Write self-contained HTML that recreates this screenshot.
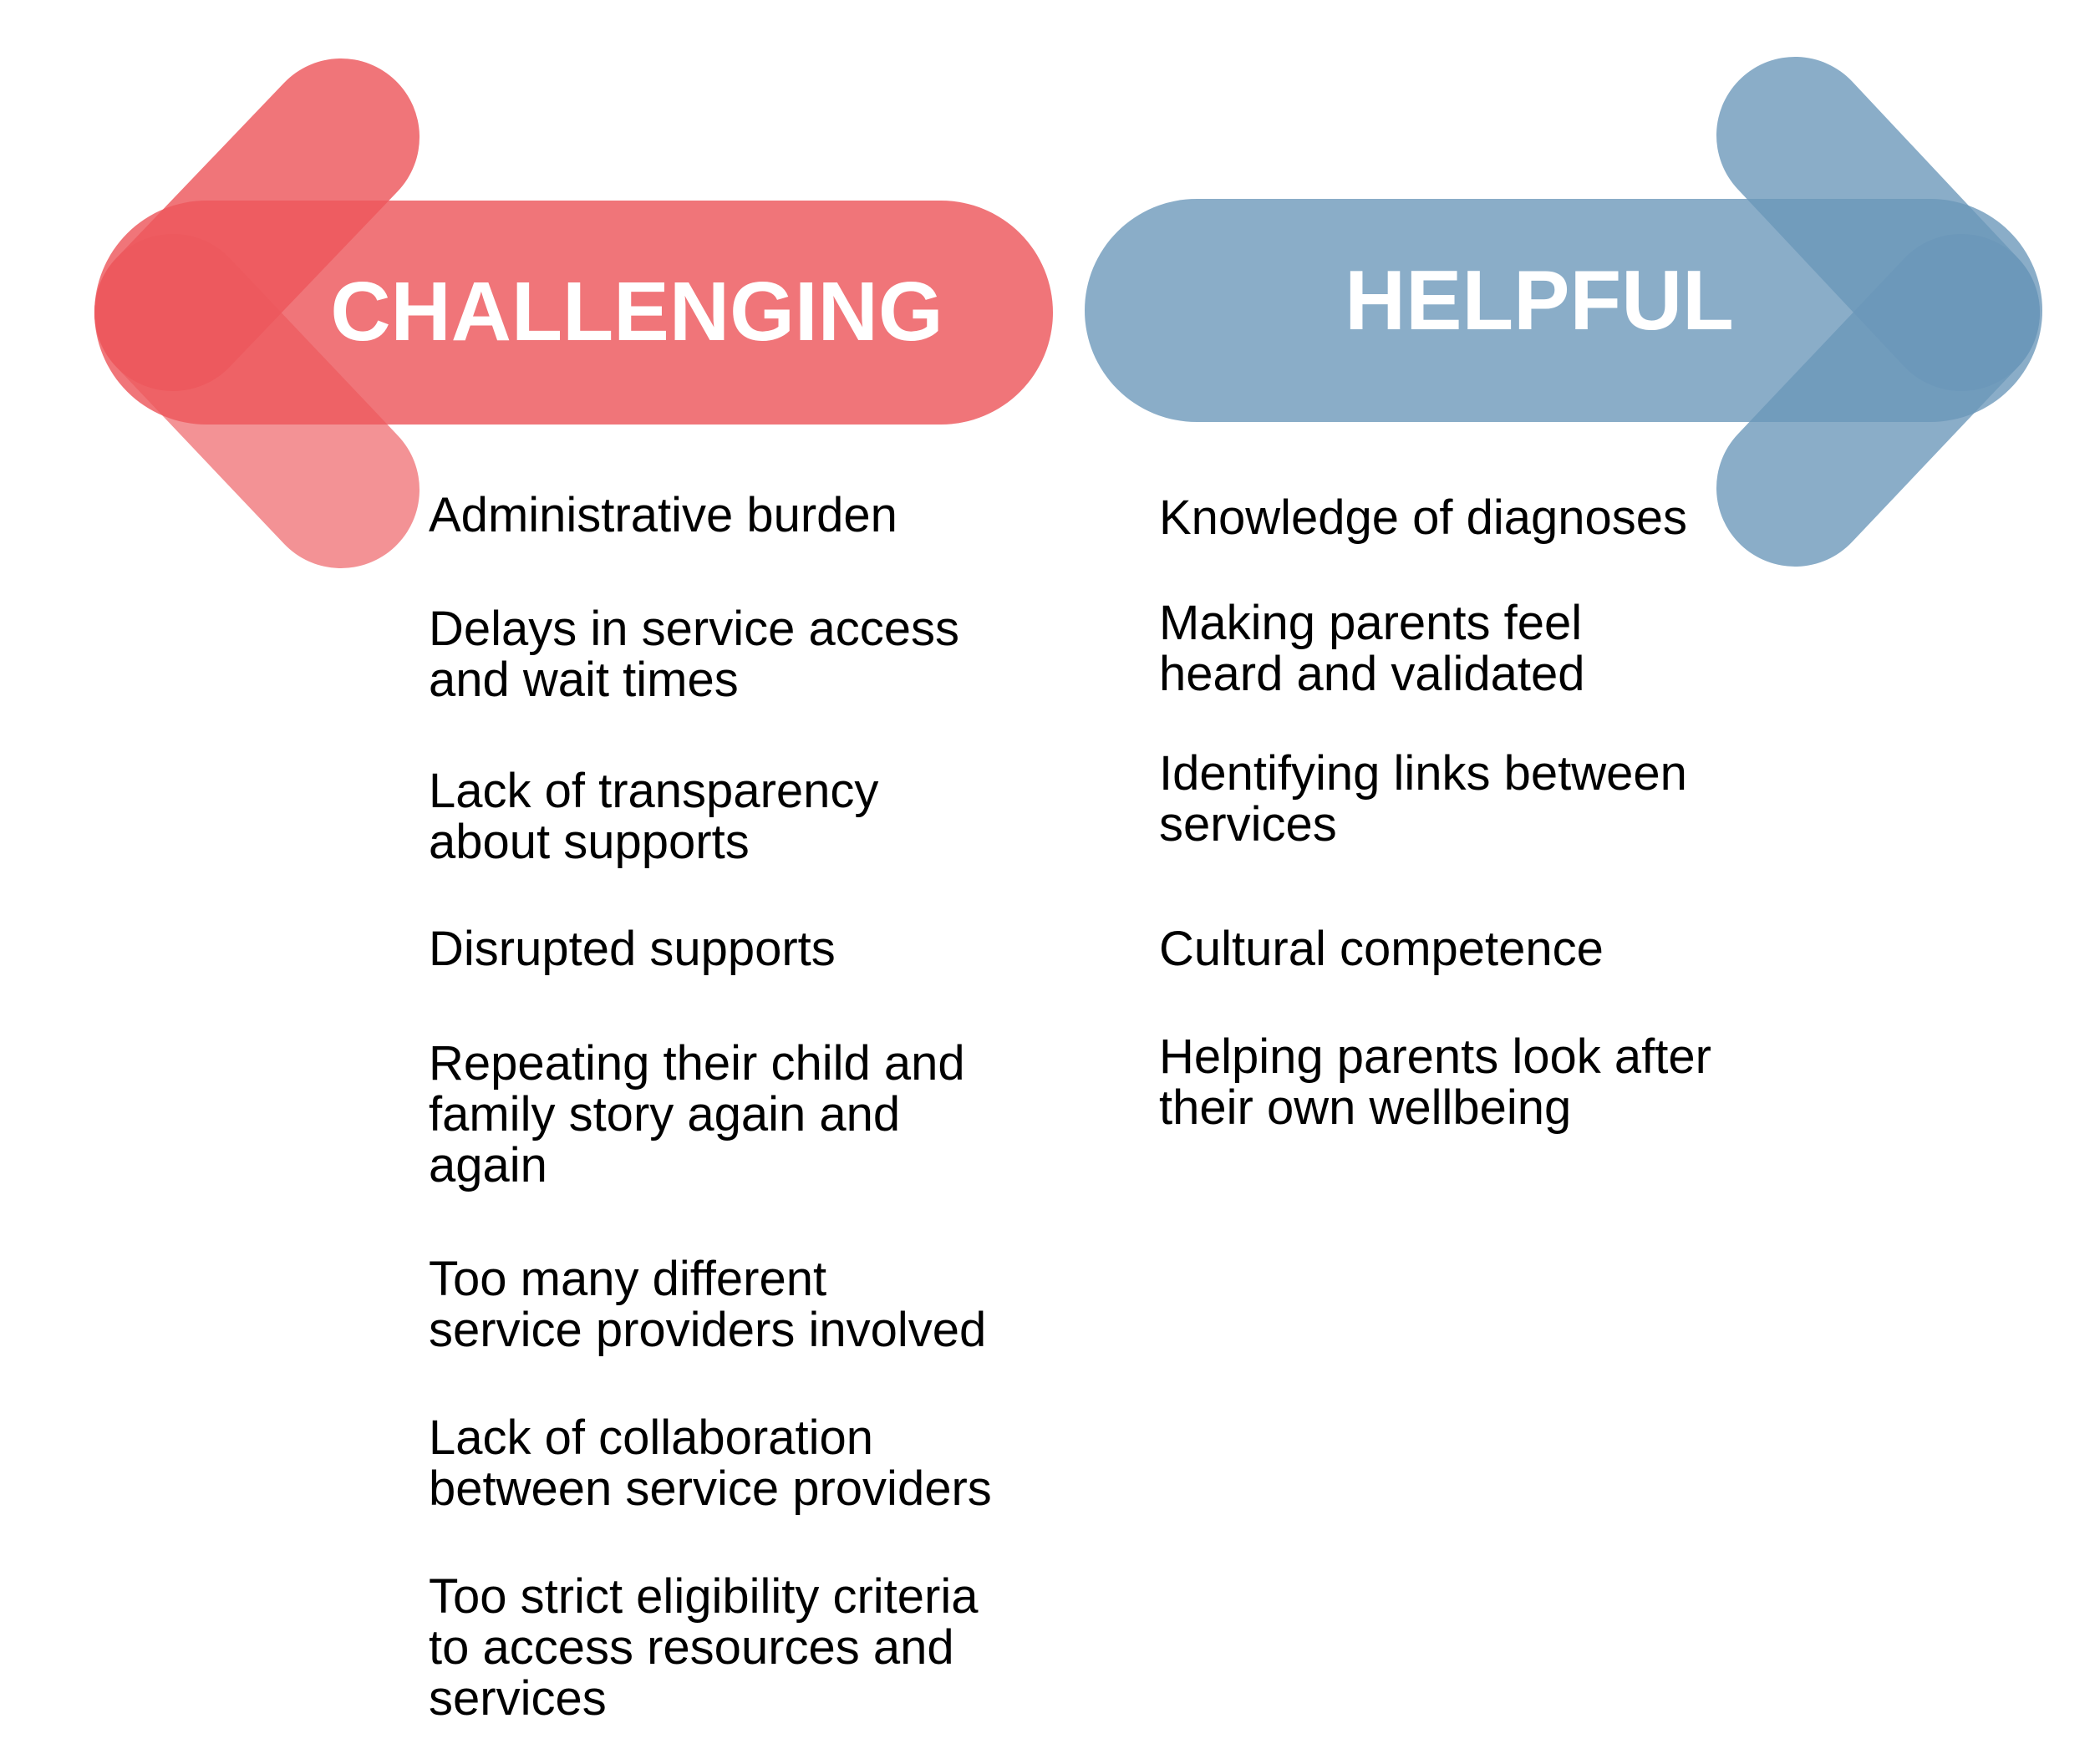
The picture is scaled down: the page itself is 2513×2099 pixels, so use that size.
<!DOCTYPE html>
<html><head><meta charset="utf-8"><style>
html,body{margin:0;padding:0;background:#fff;}
body{width:2513px;height:2099px;position:relative;overflow:hidden;font-family:"Liberation Sans",Arial,sans-serif;}
.t{position:absolute;font-size:58px;line-height:61px;color:#000;white-space:nowrap;}
svg{position:absolute;left:0;top:0;}
</style></head><body>
<svg width="2513" height="2099" viewBox="0 0 2513 2099">
  <rect x="113" y="240" width="1147" height="268" rx="134" fill="rgb(237,87,92)" fill-opacity="0.82"/>
  <line x1="408" y1="164" x2="207" y2="374" stroke="rgb(237,87,92)" stroke-opacity="0.82" stroke-width="188" stroke-linecap="round"/>
  <line x1="207" y1="374" x2="408" y2="586" stroke="rgb(237,87,92)" stroke-opacity="0.65" stroke-width="188" stroke-linecap="round"/>
  <rect x="1298" y="238" width="1146" height="267" rx="134" fill="rgb(107,151,185)" fill-opacity="0.79"/>
  <line x1="2148" y1="162" x2="2347" y2="374" stroke="rgb(107,151,185)" stroke-opacity="0.79" stroke-width="188" stroke-linecap="round"/>
  <line x1="2347" y1="374" x2="2148" y2="584" stroke="rgb(107,151,185)" stroke-opacity="0.79" stroke-width="188" stroke-linecap="round"/>
  <text x="762" y="407" text-anchor="middle" font-family="Liberation Sans, Arial, sans-serif" font-weight="bold" font-size="100" fill="#fff">CHALLENGING</text>
  <text x="1842" y="394" text-anchor="middle" font-family="Liberation Sans, Arial, sans-serif" font-weight="bold" font-size="101" fill="#fff">HELPFUL</text>
</svg>

<div class="t" style="left:513px;top:586px;">Administrative burden</div>
<div class="t" style="left:513px;top:722px;">Delays in service access<br>and wait times</div>
<div class="t" style="left:513px;top:916px;">Lack of transparency<br>about supports</div>
<div class="t" style="left:513px;top:1105px;">Disrupted supports</div>
<div class="t" style="left:513px;top:1242px;">Repeating their child and<br>family story again and<br>again</div>
<div class="t" style="left:513px;top:1500px;">Too many different<br>service providers involved</div>
<div class="t" style="left:513px;top:1690px;">Lack of collaboration<br>between service providers</div>
<div class="t" style="left:513px;top:1880px;">Too strict eligibility criteria<br>to access resources and<br>services</div>

<div class="t" style="left:1387px;top:589px;">Knowledge of diagnoses</div>
<div class="t" style="left:1387px;top:715px;">Making parents feel<br>heard and validated</div>
<div class="t" style="left:1387px;top:895px;">Identifying links between<br>services</div>
<div class="t" style="left:1387px;top:1105px;">Cultural competence</div>
<div class="t" style="left:1387px;top:1234px;">Helping parents look after<br>their own wellbeing</div>
</body></html>
